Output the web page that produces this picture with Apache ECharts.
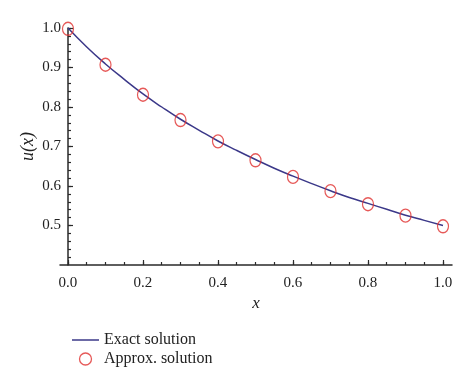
<!DOCTYPE html>
<html><head><meta charset="utf-8">
<script src="https://cdn.jsdelivr.net/npm/echarts@6/dist/echarts.min.js"></script>
<style>html,body{margin:0;padding:0;background:#fff}#c{width:474px;height:387px}</style>
</head><body><div id="c"></div>
<script>
// Data
const exactX = [0,0.05,0.1,0.15,0.2,0.25,0.3,0.35,0.4,0.45,0.5,0.55,0.6,0.65,0.7,0.75,0.8,0.85,0.9,0.95,1.0];
const exactU = [1.0,0.952,0.909,0.870,0.833,0.800,0.769,0.741,0.714,0.690,0.667,0.645,0.625,0.606,0.588,0.571,0.556,0.541,0.526,0.513,0.5];
const approxX = [0,0.1,0.2,0.3,0.4,0.5,0.6,0.7,0.8,0.9,1.0];
const approxU = [0.998,0.907,0.831,0.767,0.713,0.665,0.623,0.587,0.554,0.525,0.498];
const xTickLabels = [0,0.2,0.4,0.6,0.8,1.0];
const xMinorTicks = [0,0.05,0.1,0.15,0.2,0.25,0.3,0.35,0.4,0.45,0.5,0.55,0.6,0.65,0.7,0.75,0.8,0.85,0.9,0.95,1.0];
const yTickLabels = [0.5,0.6,0.7,0.8,0.9,1.0];
const yMinorTicks = [0.42,0.44,0.46,0.48,0.5,0.52,0.54,0.56,0.58,0.6,0.62,0.64,0.66,0.68,0.7,0.72,0.74,0.76,0.78,0.8,0.82,0.84,0.86,0.88,0.9,0.92,0.94,0.96,0.98,1.0];

const serif = '"Liberation Serif", "DejaVu Serif", serif';
const axisColor = '#2a2a2a';
const red = '#e0302e';
const xMin = -0.0213, xMax = 1.024, yMin = 0.4, yMax = 1.0;

const chart = echarts.init(document.getElementById('c'));
chart.setOption({
  animation: false,
  backgroundColor: '#fff',
  grid: {left: 60, right: 22, top: 28, bottom: 122, containLabel: false},
  xAxis: [{
    type: 'value', min: xMin, max: xMax, splitLine: {show: false},
    axisLine: {onZero: false, lineStyle: {color: axisColor, width: 1.5}},
    axisTick: {inside: true, length: 5, customValues: xTickLabels, lineStyle: {color: axisColor, width: 1.2}},
    axisLabel: {customValues: xTickLabels, margin: 11, color: '#222', fontFamily: serif, fontSize: 15,
      formatter: v => v.toFixed(1)},
    name: 'x', nameLocation: 'middle', nameGap: 30, nameMoveOverlap: false,
    nameTextStyle: {fontFamily: serif, fontStyle: 'italic', fontSize: 17, color: '#222'}
  }, {
    type: 'value', min: xMin, max: xMax, position: 'bottom', splitLine: {show: false},
    axisLine: {show: false, onZero: false},
    axisTick: {inside: true, length: 3, customValues: xMinorTicks, lineStyle: {color: axisColor, width: 1.2}},
    axisLabel: {show: false}
  }],
  yAxis: [{
    type: 'value', min: yMin, max: yMax, splitLine: {show: false},
    axisLine: {onZero: true, onZeroAxisIndex: 0, lineStyle: {color: axisColor, width: 1.5}},
    axisTick: {inside: true, length: 5, customValues: yTickLabels, lineStyle: {color: axisColor, width: 1.2}},
    axisLabel: {customValues: yTickLabels, margin: -1, color: '#222', fontFamily: serif, fontSize: 15,
      formatter: v => v.toFixed(1)},
    name: 'u(x)', nameLocation: 'middle', nameGap: 23, nameRotate: 90, nameMoveOverlap: false,
    nameTextStyle: {fontFamily: serif, fontStyle: 'italic', fontSize: 18, color: '#222'}
  }, {
    type: 'value', min: yMin, max: yMax, position: 'left', splitLine: {show: false},
    axisLine: {show: false, onZero: true, onZeroAxisIndex: 0},
    axisTick: {inside: true, length: 3, customValues: yMinorTicks, lineStyle: {color: axisColor, width: 1.2}},
    axisLabel: {show: false}
  }],
  legend: {
    orient: 'vertical', left: 67, top: 327, itemWidth: 27, itemHeight: 12, itemGap: 3,
    textStyle: {fontFamily: serif, fontSize: 16, color: '#222'},
    data: [
      {name: 'Exact solution', icon: 'path://M0,0L27,0L27,1.5L0,1.5Z', itemStyle: {color: '#3b3889'}},
      {name: 'Approx. solution', icon: 'circle', itemStyle: {color: 'rgba(255,255,255,0)', borderColor: red, borderWidth: 1.3}}
    ]
  },
  series: [{
    name: 'Exact solution', type: 'line', smooth: true, symbol: 'none',
    lineStyle: {color: '#3b3889', width: 1.5}, itemStyle: {color: '#3b3889'},
    data: exactX.map((x, i) => [x, exactU[i]]), z: 2
  }, {
    name: 'Approx. solution', type: 'scatter', symbol: 'circle', symbolSize: [11, 13],
    itemStyle: {color: 'rgba(255,255,255,0)', borderColor: red, borderWidth: 1.3},
    data: approxX.map((x, i) => [x, approxU[i]]), z: 3
  }]
});
</script></body></html>
